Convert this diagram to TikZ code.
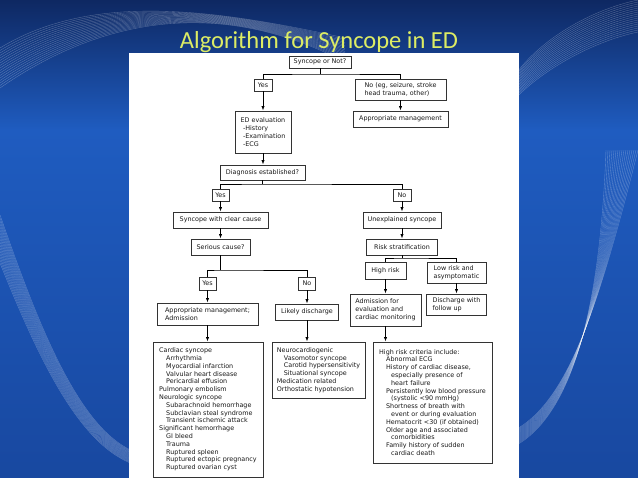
\documentclass[tikz,border=0pt]{standalone}
\usepackage{fontspec}
\newfontfamily\flowfont{DejaVu Sans}
\newfontfamily\titlefont{Carlito}
\usetikzlibrary{arrows.meta}

\definecolor{bgnavy}{RGB}{14,40,98}
\definecolor{bgblue}{RGB}{31,92,192}
\definecolor{bgdeep}{RGB}{24,72,160}
\definecolor{titlelime}{RGB}{220,236,100}

\newcommand{\lvA}{\hspace*{7pt}}
\newcommand{\lvB}{\hspace*{12pt}}

\tikzset{
  box/.style={draw=black!80, line width=0.8pt, fill=white, inner sep=0pt,
    text=black!90, font=\flowfont\fontsize{6.4}{7.8}\selectfont},
  listbox/.style={box, align=left},
  dims/.style 2 args={minimum width=#1pt, minimum height=#2pt},
  link/.style={line width=0.7pt},
  wave/.style={white, opacity=0.3, line width=0.35pt}
}

\begin{document}
\begin{tikzpicture}[x=1pt, y=-1pt, >={Latex[length=4.5pt,width=3.2pt]}]
	\useasboundingbox (0,0) rectangle (638,478);
	\clip (0,0) rectangle (638,478);
	% background
	\shade[top color=bgnavy, bottom color=bgblue] (0,0) rectangle (638,130);
	\shade[top color=bgblue, bottom color=bgdeep] (0,130) rectangle (638,478);
	\foreach \k in {0,...,16}
		\draw[wave] (0,{88-2.5*\k}) .. controls (90,{25-2*\k}) and (210,{-8+\k}) .. (345,{62-1.5*\k});
	\foreach \k in {0,...,16}
		\draw[wave] (0,{215+3*\k}) .. controls (40,{330+2*\k}) and (80,{430+\k}) .. (135,{452+0.8*\k});
	\foreach \k in {0,...,16}
		\draw[wave] (638,{2*\k}) .. controls (590,{10+2*\k}) and (540,{40+2*\k}) .. (515,{75+1.5*\k});
	\foreach \k in {0,...,16}
		\draw[wave] ({638-2*\k},150) .. controls (600,{300+\k}) and (570,{400+\k}) .. (515,{430+\k});
	\fill[white] (129,53) rectangle (519,478);
	\node[font=\titlefont\fontsize{24.5}{29}\selectfont, text=titlelime, anchor=base] (title) at (319,49) {Algorithm for Syncope in ED};

	% flowchart boxes
	\node[box, dims={62}{12}] (syncq) at (320,62) {Syncope or Not?};
	\node[box, dims={18}{12}] (yesA) at (263,85) {Yes};
	\node[listbox, dims={91}{21}] (noA) at (400.5,89.5) {No (eg, seizure, stroke\\head trauma, other)};
	\node[box, dims={95}{16}] (mgmt) at (400.5,119) {Appropriate management};
	\node[listbox, dims={56}{42}] (edeval) at (263,132) {ED evaluation\\\hspace*{2.5pt}-History\\\hspace*{2.5pt}-Examination\\\hspace*{2.5pt}-ECG};
	\node[box, dims={85}{15}] (diag) at (262.5,172.5) {Diagnosis established?};
	\node[box, dims={17}{12}] (yesB) at (220.5,195) {Yes};
	\node[box, dims={18}{12}] (noB) at (402,195) {No};
	\node[box, dims={95}{16}] (clear) at (220.5,220) {Syncope with clear cause};
	\node[box, dims={78}{16}] (unexpl) at (402,220) {Unexplained syncope};
	\node[box, dims={59}{16}] (serious) at (220.5,247) {Serious cause?};
	\node[box, dims={71}{16}] (risk) at (402,247) {Risk stratification};
	\node[box, dims={41}{17}] (high) at (385.5,270.5) {High risk};
	\node[listbox, dims={59}{21}] (low) at (456.5,272.5) {Low risk and\\asymptomatic};
	\node[box, dims={17}{13}] (yesC) at (207.5,283.5) {Yes};
	\node[box, dims={17}{13}] (noC) at (307,283.5) {No};
	\node[listbox, dims={101}{22}] (admit) at (207.5,314) {Appropriate management;\\Admission};
	\node[box, dims={63}{16}] (likely) at (307,312) {Likely discharge};
	\node[listbox, dims={71}{32}] (monitor) at (385.5,310) {Admission for\\evaluation and\\cardiac monitoring};
	\node[listbox, dims={60}{21}] (followup) at (456.5,304.5) {Discharge with\\follow up};
	\node[listbox, dims={110}{135}] (cardiac) at (208,409.5) {Cardiac syncope\\
		\lvA Arrhythmia\\\lvA Myocardial infarction\\\lvA Valvular heart disease\\\lvA Pericardial effusion\\
		Pulmonary embolism\\Neurologic syncope\\
		\lvA Subarachnoid hemorrhage\\\lvA Subclavian steal syndrome\\\lvA Transient ischemic attack\\
		Significant hemorrhage\\
		\lvA GI bleed\\\lvA Trauma\\\lvA Ruptured spleen\\\lvA Ruptured ectopic pregnancy\\\lvA Ruptured ovarian cyst};
	\node[listbox, dims={93}{56}] (neuro) at (318.5,370) {Neurocardiogenic\\
		\lvA Vasomotor syncope\\\lvA Carotid hypersensitivity\\\lvA Situational syncope\\
		Medication related\\Orthostatic hypotension};
	\node[listbox, dims={119}{121}] (criteria) at (432.5,402.5) {High risk criteria include:\\
		\lvA Abnormal ECG\\\lvA History of cardiac disease,\\\lvB especially presence of\\\lvB heart failure\\
		\lvA Persistently low blood pressure\\\lvB (systolic <90 mmHg)\\
		\lvA Shortness of breath with\\\lvB event or during evaluation\\
		\lvA Hematocrit <30 (if obtained)\\
		\lvA Older age and associated\\\lvB comorbidities\\
		\lvA Family history of sudden\\\lvB cardiac death};

	% connectors
	\coordinate (splitA) at (320,74);
	\coordinate (splitB) at (262.5,184);
	\coordinate (splitC) at (220.5,270);
	\coordinate (splitD) at (402,258);
	\draw[link] (syncq.south) -- (splitA);
	\draw[link] (yesA.north) |- (splitA) -| (noA.north);
	\draw[link] (diag.south) -- (splitB);
	\draw[link] (yesB.north) |- (splitB) -| (noB.north);
	\draw[link] (serious.south) -- (splitC);
	\draw[link] (yesC.north) |- (splitC) -| (noC.north);
	\draw[link] (risk.south) -- (splitD);
	\draw[link] (high.north) |- (splitD) -| (low.north);
	\draw[link, ->] (yesA.south) -- (edeval.north);
	\draw[link, ->] (noA.south) -- (mgmt.north);
	\draw[link, ->] (edeval.south) -- (edeval.south |- diag.north);
	\draw[link, ->] (yesB.south) -- (clear.north);
	\draw[link, ->] (noB.south) -- (unexpl.north);
	\draw[link, ->] (clear.south) -- (serious.north);
	\draw[link, ->] (unexpl.south) -- (risk.north);
	\draw[link, ->] (yesC.south) -- (admit.north);
	\draw[link, ->] (noC.south) -- (likely.north);
	\draw[link, ->] (high.south) -- (monitor.north);
	\draw[link, ->] (low.south) -- (followup.north);
	\draw[link, ->] (admit.south) -- (admit.south |- cardiac.north);
	\draw[link, ->] (likely.south) -- (likely.south |- neuro.north);
	\draw[link, ->] (monitor.south) -- (monitor.south |- criteria.north);
\end{tikzpicture}
\end{document}
